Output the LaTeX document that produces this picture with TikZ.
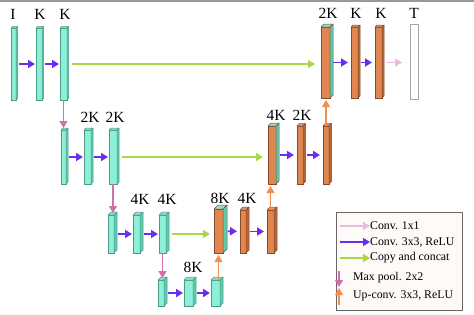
\documentclass[tikz,border=0pt]{standalone}
\usepackage{fontspec}
\setmainfont{Liberation Serif}
\usetikzlibrary{arrows.meta}
\definecolor{cyF}{HTML}{8CEFD6}
\definecolor{cyS}{HTML}{5FC9AF}
\definecolor{cyB}{HTML}{4A9A88}
\definecolor{orF}{HTML}{E0864F}
\definecolor{orS}{HTML}{B5643A}
\definecolor{orB}{HTML}{8A4A2A}
\definecolor{purA}{HTML}{6B2CF0}
\definecolor{grnA}{HTML}{A8D848}
\definecolor{pnkA}{HTML}{D070B0}
\definecolor{lpnA}{HTML}{E8BCDA}
\definecolor{orgA}{HTML}{F0904E}
\definecolor{legF}{HTML}{FDFAF8}
\newcommand\bk[9]{%
 \node[draw=#9, fill=#7, line width=0.5pt, inner sep=0pt, outer sep=0pt, minimum width=#4pt, minimum height=#5pt, anchor=north west] (#1) at (#2,#3) {};
 \filldraw[draw=#9, fill=#8!65!white, line width=0.5pt, line join=round] (#1.north west) -- ++(#6,-#6) -- ++(#4,0) -- (#1.north east) -- cycle;
 \filldraw[draw=#9, fill=#8, line width=0.5pt, line join=round] (#1.north east) -- ++(#6,-#6) -- ++(0,#5) -- (#1.south east) -- cycle;
}
\begin{document}
\begin{tikzpicture}[x=1pt,y=-1pt,
  lbl/.style={font=\fontsize{15.5}{16}\selectfont, inner sep=0pt},
  legtxt/.style={font=\fontsize{11.8}{12}\selectfont, inner sep=0pt, anchor=west},
  conv/.style={draw=purA, line width=1.8pt, -{Triangle[length=7pt,width=8pt]}},
  copyc/.style={draw=grnA, line width=1.6pt, -{Triangle[length=7pt,width=8pt]}},
  pool/.style={draw=pnkA, line width=1.1pt, -{Triangle[length=7pt,width=8pt]}},
  upc/.style={draw=orgA, line width=1.1pt, -{Triangle[length=7pt,width=8pt]}},
  one/.style={draw=lpnA, line width=1.6pt, -{Triangle[length=7pt,width=8pt]}},
]
\useasboundingbox (0,0) rectangle (474,314);
\fill[white] (0,0) rectangle (474,314);
\fill[gray!80] (0,0) rectangle (474,2);

% level 1 left
\bk{a1}{11}{28}{5}{72}{1.5}{cyF}{cyS}{cyB}
\bk{a2}{36}{28}{6}{72}{1.5}{cyF}{cyS}{cyB}
\bk{a3}{60}{28}{7}{72}{1.5}{cyF}{cyS}{cyB}
% level 1 right
\bk{r1a}{321}{27}{9}{71}{3}{orF}{cyS}{orB}
\bk{r1b}{351}{27}{7}{71}{2}{orF}{orS}{orB}
\bk{r1c}{375}{27}{7}{71}{2}{orF}{orS}{orB}
\node[draw=gray!70, fill=white, line width=0.8pt, inner sep=0pt, minimum width=8pt, minimum height=75pt, anchor=north west] (tt) at (410,24) {};
% level 2 left
\bk{b1}{61}{130}{5}{54}{2}{cyF}{cyS}{cyB}
\bk{b2}{84}{130}{7}{54}{2}{cyF}{cyS}{cyB}
\bk{b3}{109}{130}{8}{54}{2}{cyF}{cyS}{cyB}
% level 2 right
\bk{r2a}{268}{126}{8}{58}{3}{orF}{cyS}{orB}
\bk{r2b}{297}{126}{6}{58}{2.5}{orF}{orS}{orB}
\bk{r2c}{323}{126}{6}{58}{2.5}{orF}{orS}{orB}
% level 3 left
\bk{c1}{108}{215}{6}{38}{3}{cyF}{cyS}{cyB}
\bk{c2}{133}{215}{7}{38}{3}{cyF}{cyS}{cyB}
\bk{c3}{159}{215}{7}{38}{3}{cyF}{cyS}{cyB}
% level 3 right
\bk{r3a}{214}{209}{9}{44}{4}{orF}{cyS}{orB}
\bk{r3b}{240}{210}{6}{43}{3}{orF}{orS}{orB}
\bk{r3c}{267}{210}{7}{43}{3}{orF}{orS}{orB}
% level 4
\bk{d1}{158}{280}{6}{26}{3}{cyF}{cyS}{cyB}
\bk{d2}{184}{280}{9}{26}{3}{cyF}{cyS}{cyB}
\bk{d3}{211}{280}{9}{26}{3}{cyF}{cyS}{cyB}

% labels
\node[lbl] (la1) at (13,14.5) {I};
\node[lbl] (la2) at (40,14.5) {K};
\node[lbl] (la3) at (65,14.5) {K};
\node[lbl] (lr1a) at (328,13.5) {2K};
\node[lbl] (lr1b) at (356,13.5) {K};
\node[lbl] (lr1c) at (381,13.5) {K};
\node[lbl] (ltt) at (414,13.5) {T};
\node[lbl] (lb2) at (90,117) {2K};
\node[lbl] (lb3) at (115,117) {2K};
\node[lbl] (lr2a) at (276,115.5) {4K};
\node[lbl] (lr2b) at (302,115.5) {2K};
\node[lbl] (lc2) at (140,199) {4K};
\node[lbl] (lc3) at (167,199) {4K};
\node[lbl] (lr3a) at (220,198) {8K};
\node[lbl] (lr3b) at (247,198) {4K};
\node[lbl] (ld2) at (193,267.5) {8K};

% conv 3x3 arrows
\draw[conv, shorten <=3pt, shorten >=1pt] (a1.east) -- (a2.west);
\draw[conv, shorten <=3pt, shorten >=1pt] (a2.east) -- (a3.west);
\draw[conv, shorten <=3pt, shorten >=3pt] (r1a.east) -- (r1b.west);
\draw[conv, shorten <=3pt, shorten >=3pt] (r1b.east) -- (r1c.west);
\draw[conv, shorten <=3pt, shorten >=1pt] (b1.east) -- (b2.west);
\draw[conv, shorten <=3pt, shorten >=1pt] (b2.east) -- (b3.west);
\draw[conv, shorten <=4pt, shorten >=3pt] (r2a.east) -- (r2b.west);
\draw[conv, shorten <=4pt, shorten >=3pt] (r2b.east) -- (r2c.west);
\draw[conv, shorten <=4pt, shorten >=1pt] (c1.east) -- (c2.west);
\draw[conv, shorten <=4pt, shorten >=1pt] (c2.east) -- (c3.west);
\draw[conv, shorten <=5pt, shorten >=3pt] (r3a.east) -- (r3b.west);
\draw[conv, shorten <=4pt, shorten >=3pt] (r3b.east) -- (r3c.west);
\draw[conv, shorten <=4pt, shorten >=1pt] (d1.east) -- (d2.west);
\draw[conv, shorten <=4pt, shorten >=1pt] (d2.east) -- (d3.west);
% conv 1x1
\draw[one, shorten <=4pt, shorten >=8pt] (r1c.east) -- (tt.west |- r1c.east);
% copy and concat
\draw[copyc, shorten <=5pt, shorten >=6pt] (a3.east) -- (a3.east -| r1a.west);
\draw[copyc, shorten <=5pt, shorten >=5pt] (b3.east) -- (b3.east -| r2a.west);
\draw[copyc, shorten <=6pt, shorten >=4pt] (c3.east) -- (c3.east -| r3a.west);
% max pool
\draw[pool, shorten >=2pt] (a3.south) -- (a3.south |- b1.north);
\draw[pool, shorten >=2pt] (b3.south) -- (b3.south |- c1.north);
\draw[pool, shorten >=2pt] (c3.south) -- (c3.south |- d1.north);
% up-conv
\draw[upc, shorten >=2pt] (r3a.south |- d3.north) -- (r3a.south);
\draw[upc, shorten >=2pt] (r3c.north) -- (r3c.north |- r2a.south);
\draw[upc, shorten >=2pt] (r2c.north) -- (r2c.north |- r1a.south);

% legend
\node[draw=gray!80!black, fill=legF, line width=0.8pt, inner sep=0pt, minimum width=126pt, minimum height=98pt, anchor=north west] (leg) at (336,212) {};
\coordinate (k1a) at (340,226); \coordinate (k1b) at (370,226);
\coordinate (k2a) at (340,242); \coordinate (k2b) at (370,242);
\coordinate (k3a) at (340,258); \coordinate (k3b) at (370,258);
\coordinate (k4a) at (339,271); \coordinate (k4b) at (339,287);
\coordinate (k5a) at (339,305); \coordinate (k5b) at (339,288);
\draw[one] (k1a) -- (k1b);
\draw[conv] (k2a) -- (k2b);
\draw[copyc] (k3a) -- (k3b);
\draw[pool] (k4a) -- (k4b);
\draw[upc] (k5a) -- (k5b);
\node[legtxt] (t1) at (370,226) {Conv. 1x1};
\node[legtxt] (t2) at (370,242) {Conv. 3x3, ReLU};
\node[legtxt] (t3) at (370,258) {Copy and concat};
\node[legtxt] (t4) at (353,278) {Max pool. 2x2};
\node[legtxt] (t5) at (353,296) {Up-conv. 3x3, ReLU};
\end{tikzpicture}
\end{document}
